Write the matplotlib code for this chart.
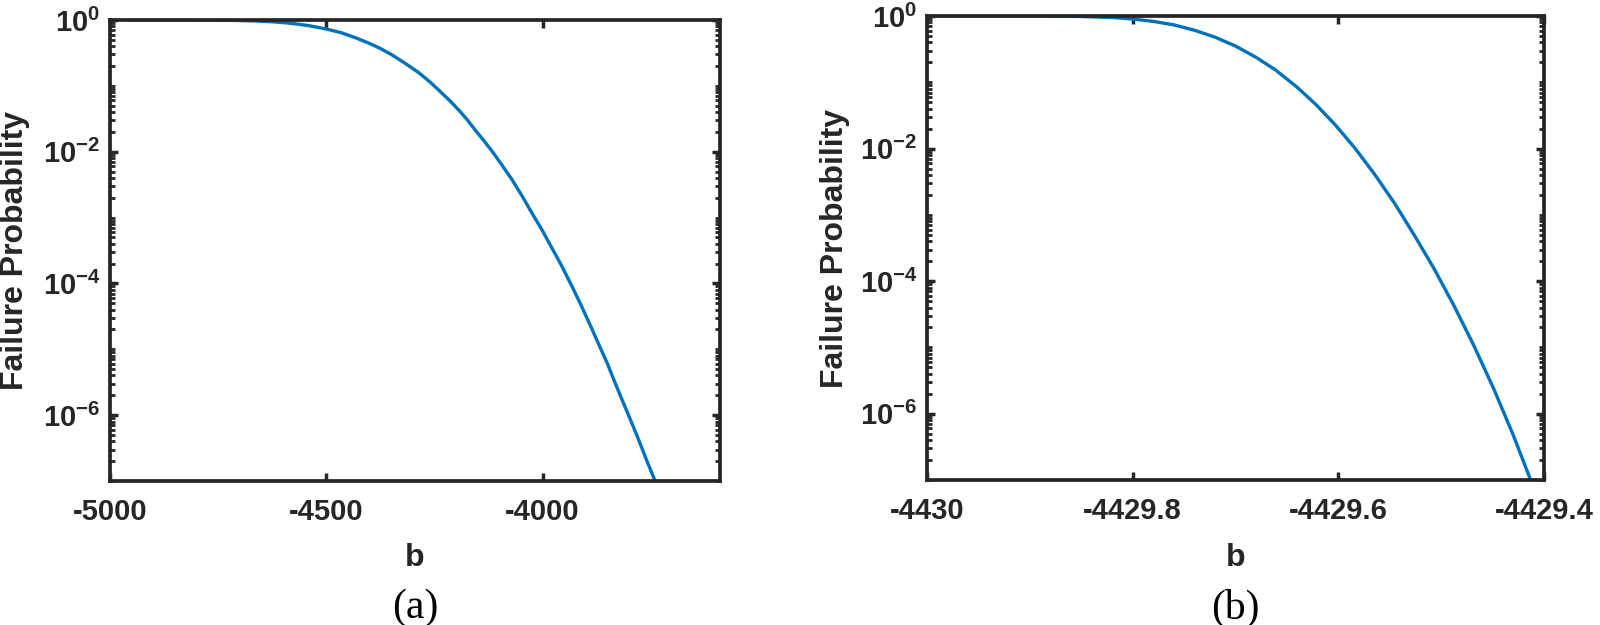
import numpy as np
import matplotlib
matplotlib.use('Agg')
import matplotlib.pyplot as plt
from matplotlib.ticker import FixedLocator, FixedFormatter, LogLocator, NullFormatter

# (a) b 与失效概率
b_a = [-4955, -4850, -4780, -4716, -4660, -4620, -4580, -4540, -4500, -4465,
       -4430, -4400, -4377, -4350, -4320, -4286, -4260, -4240, -4215, -4194,
       -4175, -4155, -4135, -4116, -4095, -4070, -4047, -4024, -4002, -3978,
       -3956, -3932, -3910, -3887, -3868, -3850, -3835, -3818.6, -3800, -3782,
       -3760, -3740]
p_a = [1.0, 0.9995, 0.997, 0.988, 0.965, 0.935, 0.89, 0.82, 0.73, 0.64,
       0.53, 0.44, 0.375, 0.30, 0.225, 0.158, 0.114, 0.086, 0.06, 0.043,
       0.031, 0.021, 0.0145, 0.010, 6.4e-3, 3.7e-3, 2.1e-3, 1.15e-3, 6.6e-4, 3.4e-4,
       1.85e-4, 9.0e-5, 4.5e-5, 2.1e-5, 1.1e-5, 6.0e-6, 3.4e-6, 1.85e-6, 9.5e-7, 4.9e-7,
       2.1e-7, 1.0e-7]

# (b) 放大区间
b_b = [-4430.000, -4429.900, -4429.853, -4429.820, -4429.800, -4429.780, -4429.760,
       -4429.740, -4429.720, -4429.700, -4429.680, -4429.661, -4429.640, -4429.622,
       -4429.603, -4429.584, -4429.565, -4429.545, -4429.526, -4429.507, -4429.488,
       -4429.468, -4429.449, -4429.430, -4429.413]
p_b = [1.0, 0.9986, 0.985, 0.95, 0.90, 0.83, 0.735,
       0.61, 0.48, 0.352, 0.238, 0.153, 0.084, 0.0465,
       0.0228, 0.0102, 4.15e-3, 1.47e-3, 4.9e-4, 1.55e-4, 4.4e-5,
       1.05e-5, 2.4e-6, 4.8e-7, 1.0e-7]

xticks_a = [-5000, -4500, -4000]
xlabels_a = ['-5000', '-4500', '-4000']
xticks_b = [-4430, -4429.8, -4429.6, -4429.4]
xlabels_b = ['-4430', '-4429.8', '-4429.6', '-4429.4']
yticks = [1e-6, 1e-4, 1e-2, 1e0]
ylabels = ['$10^{-6}$', '$10^{-4}$', '$10^{-2}$', '$10^{0}$']

plt.rcParams['font.family'] = ['Liberation Sans', 'DejaVu Sans']
plt.rcParams['font.weight'] = 'bold'
plt.rcParams['axes.unicode_minus'] = False
plt.rcParams['mathtext.fontset'] = 'custom'
plt.rcParams['mathtext.rm'] = 'Liberation Sans:bold'
plt.rcParams['mathtext.bf'] = 'Liberation Sans:bold'
plt.rcParams['mathtext.it'] = 'Liberation Sans:bold'

fig = plt.figure(figsize=(16, 6.25), dpi=100)
ax1 = fig.add_axes([0.06875, 0.2304, 0.38125, 0.7376])
ax2 = fig.add_axes([0.5794, 0.232, 0.3856, 0.7424])

dark = '#262626'
blue = '#0072BD'


def style(ax, xt, xl, xlim):
    ax.set_yscale('log')
    ax.set_ylim(1e-7, 1)
    ax.set_xlim(*xlim)
    ax.xaxis.set_major_locator(FixedLocator(xt))
    ax.xaxis.set_major_formatter(FixedFormatter(xl))
    ax.yaxis.set_major_locator(FixedLocator(yticks))
    ax.yaxis.set_major_formatter(FixedFormatter(ylabels))
    ax.yaxis.set_minor_locator(LogLocator(base=10, subs=np.arange(1, 10), numticks=30))
    ax.yaxis.set_minor_formatter(NullFormatter())
    for s in ax.spines.values():
        s.set_linewidth(2.7)
        s.set_color(dark)
    ax.tick_params(which='both', direction='in', top=True, right=True, colors=dark)
    ax.tick_params(which='major', length=6, width=2.5, labelsize=21)
    ax.tick_params(which='minor', length=3.5, width=2)
    ax.tick_params(axis='x', pad=12)
    ax.tick_params(axis='y', pad=7)
    ax.set_xlabel('b', fontsize=23, fontweight='bold', color=dark)
    ax.set_ylabel('Failure Probability', fontsize=23, fontweight='bold', color=dark)


ax1.plot(b_a, p_a, color=blue, lw=2.4)
style(ax1, xticks_a, xlabels_a, (-5000, -3590))
ax1.xaxis.set_label_coords(0.5, -0.135)
ax1.yaxis.set_label_coords(-0.131, 0.5)

ax2.plot(b_b, p_b, color=blue, lw=2.4)
style(ax2, xticks_b, xlabels_b, (-4430, -4429.4))
ax2.xaxis.set_label_coords(0.5, -0.136)
ax2.yaxis.set_label_coords(-0.125, 0.5)

fig.text(0.2594, 0.027, '(a)', family='Liberation Serif', fontweight='normal',
         fontsize=30, ha='center', va='center', color='black')
fig.text(0.7722, 0.027, '(b)', family='Liberation Serif', fontweight='normal',
         fontsize=30, ha='center', va='center', color='black')

fig.savefig('out.png', dpi=100)
